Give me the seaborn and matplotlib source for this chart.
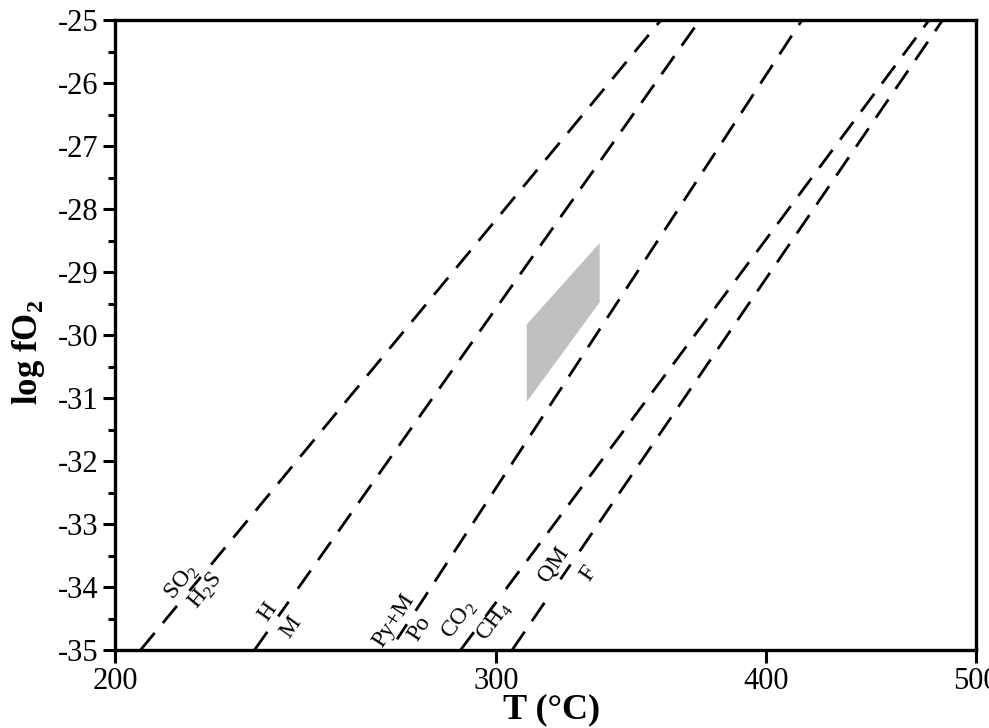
import matplotlib
matplotlib.use("Agg")
import matplotlib.pyplot as plt
import numpy as np
import pandas as pd
import seaborn as sns

# buffer reaction lines: temperature (degC) at log fO2 = -35 and -25
buffers = ["SO2-H2S", "H-M", "PyM-Po", "CO2-CH4", "QM-F"]
t_bottom = [205.5, 232.0, 268.0, 288.9, 305.2]
t_top = [357.6, 372.7, 415.5, 475.7, 482.6]
fo2_ends = [-35, -25]

# label pairs (left / right of each line) and where on the line they sit
left_labels = ["SO$_2$", "H", "Py+M", "CO$_2$", "QM"]
right_labels = ["H$_2$S", "M", "Po", "CH$_4$", "F"]
label_fo2 = [-33.95, -34.35, -34.71, -34.35, -33.76]

# shaded field
field_t = [310, 335, 335, 310]
field_fo2 = [-29.83, -28.54, -29.48, -31.06]

sns.set_style("ticks")
plt.rcParams["font.family"] = ["Liberation Serif", "DejaVu Serif"]
plt.rcParams["mathtext.fontset"] = "custom"
plt.rcParams["mathtext.rm"] = "Liberation Serif"
plt.rcParams["mathtext.bf"] = "Liberation Serif:bold"
plt.rcParams["axes.unicode_minus"] = False
plt.rcParams["text.color"] = "black"
plt.rcParams["axes.labelcolor"] = "black"
plt.rcParams["xtick.color"] = "black"
plt.rcParams["ytick.color"] = "black"

fig = plt.figure(figsize=(9.89, 7.28), dpi=100)
ax = fig.add_axes([0.1163, 0.1071, 0.8705, 0.8654])
ax.set_xscale("log")
ax.set_xlim(200, 500)
ax.set_ylim(-35, -25)

# split each line around its label so the labels sit in a gap
rows = []
anchors = []
angles = []
half_seg = 9
gap = 16
for i, name in enumerate(buffers):
    frac = (label_fo2[i] - fo2_ends[0]) / (fo2_ends[1] - fo2_ends[0])
    lt = np.log10(t_bottom[i]) + frac * (np.log10(t_top[i]) - np.log10(t_bottom[i]))
    t_anchor = 10 ** lt
    p0 = ax.transData.transform((t_bottom[i], fo2_ends[0]))
    p1 = ax.transData.transform((t_top[i], fo2_ends[1]))
    pa = ax.transData.transform((t_anchor, label_fo2[i]))
    u = (p1 - p0) / np.hypot(*(p1 - p0))
    inv = ax.transData.inverted()
    a_lo = inv.transform(pa - (half_seg + gap) * u)
    a_hi = inv.transform(pa + (half_seg + gap) * u)
    s_lo = inv.transform(pa - half_seg * u)
    s_hi = inv.transform(pa + half_seg * u)
    rows += [
        {"piece": f"{name}-a", "T": t_bottom[i], "logfO2": fo2_ends[0], "kind": "dash"},
        {"piece": f"{name}-a", "T": a_lo[0], "logfO2": a_lo[1], "kind": "dash"},
        {"piece": f"{name}-b", "T": a_hi[0], "logfO2": a_hi[1], "kind": "dash"},
        {"piece": f"{name}-b", "T": t_top[i], "logfO2": fo2_ends[1], "kind": "dash"},
        {"piece": f"{name}-s", "T": s_lo[0], "logfO2": s_lo[1], "kind": "solid"},
        {"piece": f"{name}-s", "T": s_hi[0], "logfO2": s_hi[1], "kind": "solid"},
    ]
    anchors.append((t_anchor, label_fo2[i]))
    angles.append(np.degrees(np.arctan2(p1[1] - p0[1], p1[0] - p0[0])))
df = pd.DataFrame(rows)

for piece, sub in df.groupby("piece", sort=False):
    ls = (0, (8, 4.6)) if sub["kind"].iloc[0] == "dash" else "-"
    sns.lineplot(data=sub, x="T", y="logfO2", ax=ax, color="black",
                 linewidth=2.0, linestyle=ls, estimator=None, sort=False,
                 legend=False)
for ln in ax.lines:
    ln.set_solid_capstyle("butt")
    ln.set_dash_capstyle("butt")

ax.fill(field_t, field_fo2, color="#c0c0c0", linewidth=0, zorder=1)

ax.set_xlim(200, 500)
ax.set_ylim(-35, -25)
ax.set_xticks([200, 300, 400, 500])
ax.set_xticklabels(["200", "300", "400", "500"])
ax.xaxis.set_minor_locator(matplotlib.ticker.NullLocator())
ax.set_yticks(np.arange(-35, -24, 1))
ax.set_yticks(np.arange(-34.5, -25, 1), minor=True)
ax.set_xlabel("")
ax.set_ylabel("")

ax.tick_params(axis="both", which="major", direction="out", length=9,
               width=2.2, labelsize=22, pad=3)
ax.tick_params(axis="y", which="minor", direction="out", length=5, width=2.2)
for sp in ax.spines.values():
    sp.set_linewidth(2.4)
    sp.set_color("black")

ax.set_xlabel("T (°C)", fontsize=26, fontweight="bold")
ax.xaxis.set_label_coords(0.507, -0.068)
ax.set_ylabel(r"log fO$_\mathbf{2}$", fontsize=25, fontweight="bold", labelpad=8)
ax.yaxis.label.set_y(0.473)

# pixel offsets (right, down) of labels from the anchor point on each line
left_off = [(-13, -2), (-16, 3), (-8, -11), (-32, 11), (-12, -8)]
right_off = [(11, 7), (7, 18), (18, -3), (4, 13), (23, 2)]

for i in range(len(buffers)):
    for lab, off in ((left_labels[i], left_off[i]), (right_labels[i], right_off[i])):
        ax.annotate(lab, xy=anchors[i],
                    xytext=(off[0] * 0.72, -off[1] * 0.72),
                    textcoords="offset points", ha="center", va="center",
                    rotation=angles[i], rotation_mode="anchor", fontsize=17)

fig.savefig("out.png", dpi=100)
